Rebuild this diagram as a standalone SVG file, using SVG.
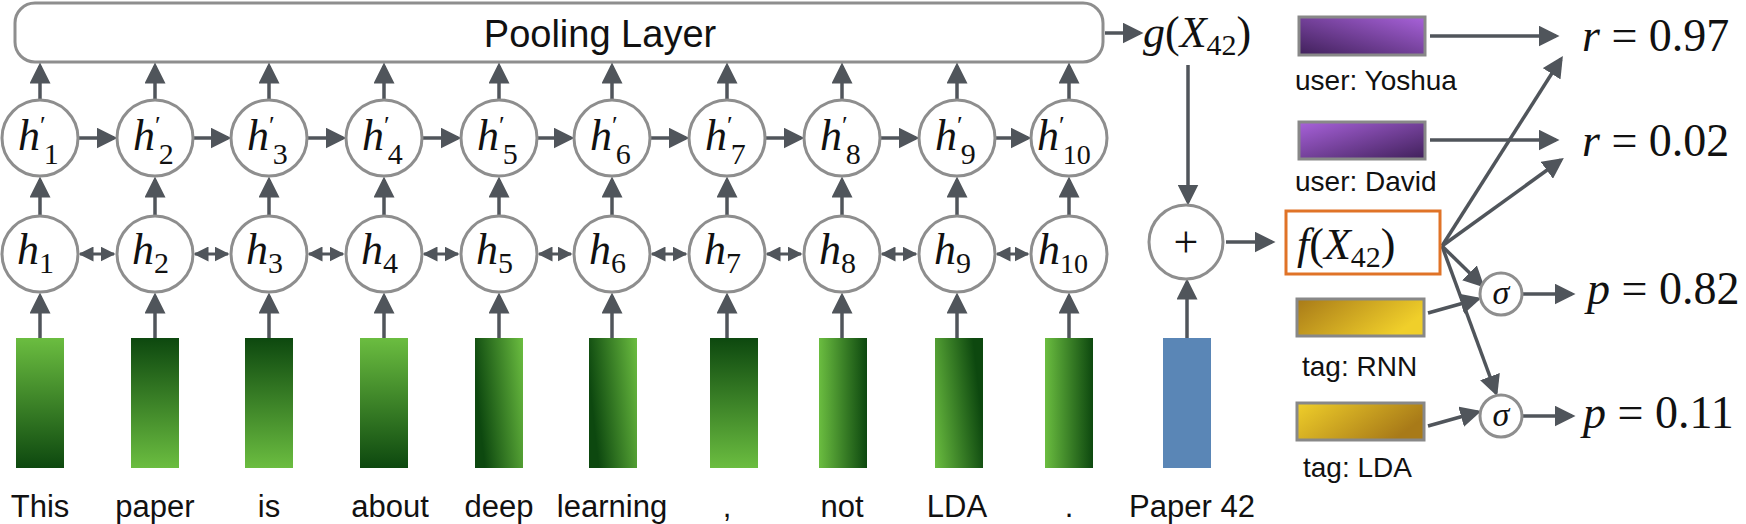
<svg xmlns="http://www.w3.org/2000/svg" width="1746" height="524" viewBox="0 0 1746 524">
<style>
.c{fill:#fff;stroke:#8e8e8e;stroke-width:3}
.a{stroke:#50555b;stroke-width:3.5;fill:none;marker-end:url(#ah)}
.d{stroke:#50555b;stroke-width:3;fill:none;marker-end:url(#sh);marker-start:url(#sh2)}
.m{font-family:"Liberation Serif",serif;font-style:italic;fill:#111}
.r{font-family:"Liberation Serif",serif;font-style:normal;fill:#111}
.s{font-family:"Liberation Sans",Arial,sans-serif;fill:#111}
.bar{stroke:#888;stroke-width:3}
</style>
<defs>
<marker id="ah" markerWidth="6" markerHeight="6" refX="5" refY="3" orient="auto" markerUnits="strokeWidth"><path d="M0,0 L6,3 L0,6 Z" fill="#50555b"/></marker>
<marker id="sh" markerWidth="5" markerHeight="5" refX="4.5" refY="2.5" orient="auto" markerUnits="strokeWidth"><path d="M0,0 L5,2.5 L0,5 Z" fill="#50555b"/></marker>
<marker id="sh2" markerWidth="5" markerHeight="5" refX="0.5" refY="2.5" orient="auto" markerUnits="strokeWidth"><path d="M5,0 L0,2.5 L5,5 Z" fill="#50555b"/></marker>
<linearGradient id="gLD" x1="0" y1="0" x2="0" y2="1"><stop offset="0" stop-color="#6bbd40"/><stop offset="1" stop-color="#0d480f"/></linearGradient>
<linearGradient id="gDL" x1="0" y1="0" x2="0" y2="1"><stop offset="0" stop-color="#0d480f"/><stop offset="1" stop-color="#6bbd40"/></linearGradient>
<linearGradient id="gHL" x1="0" y1="0.3" x2="1" y2="0"><stop offset="0" stop-color="#0d480f"/><stop offset="1" stop-color="#6bbd40"/></linearGradient>
<linearGradient id="gHD" x1="0" y1="0" x2="1" y2="0"><stop offset="0" stop-color="#6bbd40"/><stop offset="1" stop-color="#0d480f"/></linearGradient>
<linearGradient id="gHD2" x1="0" y1="1" x2="1" y2="0.7"><stop offset="0" stop-color="#6bbd40"/><stop offset="1" stop-color="#0d480f"/></linearGradient>
<linearGradient id="pDL" x1="0" y1="1" x2="1" y2="0"><stop offset="0" stop-color="#40205a"/><stop offset="1" stop-color="#a862da"/></linearGradient>
<linearGradient id="pLD" x1="0" y1="0" x2="1" y2="1"><stop offset="0" stop-color="#a862da"/><stop offset="1" stop-color="#40205a"/></linearGradient>
<linearGradient id="yDL" x1="0" y1="0" x2="1" y2="0.4"><stop offset="0" stop-color="#a87a18"/><stop offset="1" stop-color="#f0cf2a"/></linearGradient>
<linearGradient id="yLD" x1="0" y1="0" x2="1" y2="0.4"><stop offset="0" stop-color="#f0cf2a"/><stop offset="1" stop-color="#a87a18"/></linearGradient>
</defs>

<g id="pooling"><rect x="15" y="3" width="1088" height="59" rx="20" fill="#fff" stroke="#8e8e8e" stroke-width="3"/><text class="s" x="600" y="47" font-size="38" text-anchor="middle">Pooling Layer</text></g>

<g id="embeddings">
<rect x="16" y="338" width="48" height="130" fill="url(#gLD)"/>
<rect x="131" y="338" width="48" height="130" fill="url(#gDL)"/>
<rect x="245" y="338" width="48" height="130" fill="url(#gDL)"/>
<rect x="360" y="338" width="48" height="130" fill="url(#gLD)"/>
<rect x="475" y="338" width="48" height="130" fill="url(#gHL)"/>
<rect x="589" y="338" width="48" height="130" fill="url(#gHL)"/>
<rect x="710" y="338" width="48" height="130" fill="url(#gDL)"/>
<rect x="819" y="338" width="48" height="130" fill="url(#gHD)"/>
<rect x="935" y="338" width="48" height="130" fill="url(#gHD2)"/>
<rect x="1045" y="338" width="48" height="130" fill="url(#gHD)"/>
<rect x="1163" y="338" width="48" height="130" fill="#5a86b6"/>
</g>

<g id="words" font-size="31">
<text class="s" x="40" y="517" text-anchor="middle">This</text>
<text class="s" x="155" y="517" text-anchor="middle">paper</text>
<text class="s" x="269" y="517" text-anchor="middle">is</text>
<text class="s" x="390" y="517" text-anchor="middle">about</text>
<text class="s" x="499" y="517" text-anchor="middle">deep</text>
<text class="s" x="612" y="517" text-anchor="middle">learning</text>
<text class="s" x="727" y="517" text-anchor="middle">,</text>
<text class="s" x="842" y="517" text-anchor="middle">not</text>
<text class="s" x="957" y="517" text-anchor="middle">LDA</text>
<text class="s" x="1069" y="517" text-anchor="middle">.</text>
<text class="s" x="1192" y="517" text-anchor="middle">Paper 42</text>
</g>

<g id="connectors">
<line class="a" x1="40" y1="100" x2="40" y2="66"/><line class="a" x1="155" y1="100" x2="155" y2="66"/><line class="a" x1="269" y1="100" x2="269" y2="66"/><line class="a" x1="384" y1="100" x2="384" y2="66"/><line class="a" x1="499" y1="100" x2="499" y2="66"/><line class="a" x1="612" y1="100" x2="612" y2="66"/><line class="a" x1="727" y1="100" x2="727" y2="66"/><line class="a" x1="842" y1="100" x2="842" y2="66"/><line class="a" x1="957" y1="100" x2="957" y2="66"/><line class="a" x1="1069" y1="100" x2="1069" y2="66"/>
<line class="a" x1="40" y1="216" x2="40" y2="180"/><line class="a" x1="155" y1="216" x2="155" y2="180"/><line class="a" x1="269" y1="216" x2="269" y2="180"/><line class="a" x1="384" y1="216" x2="384" y2="180"/><line class="a" x1="499" y1="216" x2="499" y2="180"/><line class="a" x1="612" y1="216" x2="612" y2="180"/><line class="a" x1="727" y1="216" x2="727" y2="180"/><line class="a" x1="842" y1="216" x2="842" y2="180"/><line class="a" x1="957" y1="216" x2="957" y2="180"/><line class="a" x1="1069" y1="216" x2="1069" y2="180"/>
<line class="a" x1="40" y1="338" x2="40" y2="296"/><line class="a" x1="155" y1="338" x2="155" y2="296"/><line class="a" x1="269" y1="338" x2="269" y2="296"/><line class="a" x1="384" y1="338" x2="384" y2="296"/><line class="a" x1="499" y1="338" x2="499" y2="296"/><line class="a" x1="612" y1="338" x2="612" y2="296"/><line class="a" x1="727" y1="338" x2="727" y2="296"/><line class="a" x1="842" y1="338" x2="842" y2="296"/><line class="a" x1="957" y1="338" x2="957" y2="296"/><line class="a" x1="1069" y1="338" x2="1069" y2="296"/>
<line class="a" x1="79" y1="138" x2="114" y2="138"/><line class="a" x1="194" y1="138" x2="228" y2="138"/><line class="a" x1="308" y1="138" x2="343" y2="138"/><line class="a" x1="423" y1="138" x2="458" y2="138"/><line class="a" x1="538" y1="138" x2="571" y2="138"/><line class="a" x1="651" y1="138" x2="686" y2="138"/><line class="a" x1="766" y1="138" x2="801" y2="138"/><line class="a" x1="881" y1="138" x2="916" y2="138"/><line class="a" x1="996" y1="138" x2="1028" y2="138"/>
<line class="d" x1="80" y1="254" x2="114" y2="254"/><line class="d" x1="195" y1="254" x2="228" y2="254"/><line class="d" x1="309" y1="254" x2="343" y2="254"/><line class="d" x1="424" y1="254" x2="458" y2="254"/><line class="d" x1="539" y1="254" x2="571" y2="254"/><line class="d" x1="652" y1="254" x2="686" y2="254"/><line class="d" x1="767" y1="254" x2="801" y2="254"/><line class="d" x1="882" y1="254" x2="916" y2="254"/><line class="d" x1="997" y1="254" x2="1028" y2="254"/>
<line class="a" x1="1105" y1="33" x2="1140" y2="33"/>
<line class="a" x1="1188" y1="65" x2="1188" y2="202"/>
<line class="a" x1="1187" y1="338" x2="1187" y2="282"/>
<line class="a" x1="1226" y1="242" x2="1272" y2="242"/>
<line class="a" x1="1430" y1="36" x2="1556" y2="36"/>
<line class="a" x1="1430" y1="140" x2="1556" y2="140"/>
<line class="a" x1="1442" y1="246" x2="1561" y2="59"/>
<line class="a" x1="1442" y1="246" x2="1561" y2="160"/>
<line class="a" x1="1442" y1="246" x2="1482" y2="285"/>
<line class="a" x1="1442" y1="246" x2="1496" y2="393"/>
<line class="a" x1="1428" y1="313" x2="1478" y2="299"/>
<line class="a" x1="1428" y1="426" x2="1478" y2="412"/>
<line class="a" x1="1523" y1="294" x2="1572" y2="294"/>
<line class="a" x1="1523" y1="416" x2="1572" y2="416"/>
</g>

<g id="hprime" font-size="44">
<circle class="c" cx="40" cy="138" r="38"/><circle class="c" cx="155" cy="138" r="38"/><circle class="c" cx="269" cy="138" r="38"/><circle class="c" cx="384" cy="138" r="38"/><circle class="c" cx="499" cy="138" r="38"/><circle class="c" cx="612" cy="138" r="38"/><circle class="c" cx="727" cy="138" r="38"/><circle class="c" cx="842" cy="138" r="38"/><circle class="c" cx="957" cy="138" r="38"/><circle class="c" cx="1069" cy="138" r="38"/>
<text class="m" x="18" y="150">h<tspan class="r" font-size="26" dy="-16">′</tspan><tspan class="r" font-size="30" dx="-2" dy="30">1</tspan></text>
<text class="m" x="133" y="150">h<tspan class="r" font-size="26" dy="-16">′</tspan><tspan class="r" font-size="30" dx="-2" dy="30">2</tspan></text>
<text class="m" x="247" y="150">h<tspan class="r" font-size="26" dy="-16">′</tspan><tspan class="r" font-size="30" dx="-2" dy="30">3</tspan></text>
<text class="m" x="362" y="150">h<tspan class="r" font-size="26" dy="-16">′</tspan><tspan class="r" font-size="30" dx="-2" dy="30">4</tspan></text>
<text class="m" x="477" y="150">h<tspan class="r" font-size="26" dy="-16">′</tspan><tspan class="r" font-size="30" dx="-2" dy="30">5</tspan></text>
<text class="m" x="590" y="150">h<tspan class="r" font-size="26" dy="-16">′</tspan><tspan class="r" font-size="30" dx="-2" dy="30">6</tspan></text>
<text class="m" x="705" y="150">h<tspan class="r" font-size="26" dy="-16">′</tspan><tspan class="r" font-size="30" dx="-2" dy="30">7</tspan></text>
<text class="m" x="820" y="150">h<tspan class="r" font-size="26" dy="-16">′</tspan><tspan class="r" font-size="30" dx="-2" dy="30">8</tspan></text>
<text class="m" x="935" y="150">h<tspan class="r" font-size="26" dy="-16">′</tspan><tspan class="r" font-size="30" dx="-2" dy="30">9</tspan></text>
<text class="m" x="1037" y="150">h<tspan class="r" font-size="26" dy="-16">′</tspan><tspan class="r" font-size="28" dx="-2" dy="30">10</tspan></text>
</g>

<g id="h" font-size="44">
<circle class="c" cx="40" cy="254" r="38"/><circle class="c" cx="155" cy="254" r="38"/><circle class="c" cx="269" cy="254" r="38"/><circle class="c" cx="384" cy="254" r="38"/><circle class="c" cx="499" cy="254" r="38"/><circle class="c" cx="612" cy="254" r="38"/><circle class="c" cx="727" cy="254" r="38"/><circle class="c" cx="842" cy="254" r="38"/><circle class="c" cx="957" cy="254" r="38"/><circle class="c" cx="1069" cy="254" r="38"/>
<text class="m" x="17" y="264">h<tspan class="r" font-size="30" dy="9">1</tspan></text>
<text class="m" x="132" y="264">h<tspan class="r" font-size="30" dy="9">2</tspan></text>
<text class="m" x="246" y="264">h<tspan class="r" font-size="30" dy="9">3</tspan></text>
<text class="m" x="361" y="264">h<tspan class="r" font-size="30" dy="9">4</tspan></text>
<text class="m" x="476" y="264">h<tspan class="r" font-size="30" dy="9">5</tspan></text>
<text class="m" x="589" y="264">h<tspan class="r" font-size="30" dy="9">6</tspan></text>
<text class="m" x="704" y="264">h<tspan class="r" font-size="30" dy="9">7</tspan></text>
<text class="m" x="819" y="264">h<tspan class="r" font-size="30" dy="9">8</tspan></text>
<text class="m" x="934" y="264">h<tspan class="r" font-size="30" dy="9">9</tspan></text>
<text class="m" x="1038" y="264">h<tspan class="r" font-size="28" dy="9">10</tspan></text>
</g>

<g id="g"><text class="m" x="1143" y="47" font-size="44">g<tspan class="r">(</tspan>X<tspan class="r" font-size="30" dy="8">42</tspan><tspan class="r" dy="-8">)</tspan></text></g>
<g id="plus"><circle class="c" cx="1186" cy="242" r="37"/><text class="r" x="1186" y="257" font-size="44" text-anchor="middle">+</text></g>
<g id="f"><rect x="1286" y="211" width="154" height="63" fill="#fff" stroke="#e07327" stroke-width="3"/><text class="m" x="1297" y="259" font-size="44">f<tspan class="r">(</tspan>X<tspan class="r" font-size="30" dy="8">42</tspan><tspan class="r" dy="-8">)</tspan></text></g>

<g id="yoshua"><rect class="bar" x="1299" y="17" width="126" height="38" fill="url(#pDL)"/><text class="s" x="1295" y="90" font-size="28">user: Yoshua</text></g>
<g id="david"><rect class="bar" x="1299" y="122" width="126" height="37" fill="url(#pLD)"/><text class="s" x="1295" y="191" font-size="28">user: David</text></g>
<g id="rnn"><rect class="bar" x="1297" y="299" width="127" height="37" fill="url(#yDL)"/><text class="s" x="1302" y="376" font-size="28">tag: RNN</text></g>
<g id="lda"><rect class="bar" x="1297" y="403" width="127" height="37" fill="url(#yLD)"/><text class="s" x="1303" y="477" font-size="28">tag: LDA</text></g>

<g id="sigma1"><circle class="c" cx="1501" cy="294" r="21"/><text class="m" x="1501" y="304" font-size="34" text-anchor="middle">σ</text></g>
<g id="sigma2"><circle class="c" cx="1501" cy="416" r="21"/><text class="m" x="1501" y="426" font-size="34" text-anchor="middle">σ</text></g>

<g id="outputs" font-size="46">
<text class="m" x="1582" y="51">r<tspan class="r"> = 0.97</tspan></text>
<text class="m" x="1582" y="156">r<tspan class="r"> = 0.02</tspan></text>
<text class="m" x="1587" y="304">p<tspan class="r"> = 0.82</tspan></text>
<text class="m" x="1583" y="428">p<tspan class="r"> = 0.11</tspan></text>
</g>
</svg>
